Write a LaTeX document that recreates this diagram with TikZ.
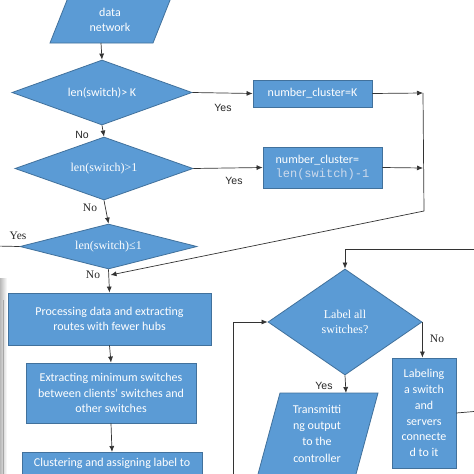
\documentclass[tikz,border=0pt]{standalone}
\usepackage{fontspec}
\setmainfont{Carlito}
\newfontfamily\serifface{Liberation Serif}
\newfontfamily\arialface{Liberation Sans}
\newfontfamily\monoface{Liberation Mono}
\usetikzlibrary{shapes.geometric,arrows.meta}
\definecolor{boxblue}{RGB}{91,155,213}
\definecolor{boxedge}{RGB}{65,113,156}
\definecolor{monotext}{RGB}{205,218,236}
\begin{document}
\begin{tikzpicture}[x=1pt,y=-1pt,
  blk/.style={draw=boxedge, fill=boxblue, line width=0.8pt},
  box/.style={blk, rectangle, text=white, font=\fontsize{12}{15.5}\selectfont, align=center, inner sep=0pt},
  dia/.style={blk, diamond, aspect=3, text=white, inner sep=0pt, align=center, font=\fontsize{12}{15}\selectfont},
  serdia/.style={dia, font=\serifface\fontsize{12}{15}\selectfont},
  conn/.style={draw=black!80, line width=0.7pt},
  arr/.style={conn, -{Latex[length=6pt,width=5pt]}},
  lblsans/.style={font=\arialface\fontsize{10.5}{12}\selectfont, inner sep=0pt, text=black!85},
  lblserif/.style={font=\serifface\fontsize{11.5}{12}\selectfont, inner sep=0pt, text=black!85},
  intext/.style={text=white, inner sep=0pt, align=center, font=\fontsize{12}{15.5}\selectfont}]
\useasboundingbox (0,0) rectangle (474,474);
\clip (0,0) rectangle (474,474);
\fill[white] (0,0) rectangle (474,474);

% page shadow on the left
\shade[left color=gray!55, right color=white] (0,278) rectangle (7,474);
\draw[gray!70, line width=0.6pt] (3.5,300) -- (3.5,474);

% input parallelogram (top)
\filldraw[blk] (50,43) -- (153,43) -- (180,-25) -- (77,-25) -- cycle;
\node[intext, font=\fontsize{12}{15}\selectfont] (src) at (110,19.5) {data\\network};
\coordinate (srcb) at (101,43);

% decisions
\node[dia, minimum width=180, minimum height=65] (d1) at (102,92.5) {len(switch)> K};
\node[serdia, minimum width=178, minimum height=63] (d2) at (104,168.5) {len(switch)>1};
\node[serdia, minimum width=177, minimum height=45] (d3) at (108.5,246.5) {len(switch)≤1};
\node[serdia, minimum width=154, minimum height=106] (d4) at (345,322) {Label all\\switches?};

% boxes
\node[box, minimum width=119, minimum height=27] (kbox) at (312.5,93.5) {number\_cluster=K};
\node[box, minimum width=119, minimum height=41, align=left, font=\fontsize{12}{14}\selectfont] (lbox) at (322.5,167.5)
  {number\_cluster=\\{\monoface\color{monotext}len(switch)-1}};
\node[box, minimum width=203, minimum height=52] (proc) at (109.5,319) {Processing data and extracting\\routes with fewer hubs};
\node[box, minimum width=170, minimum height=60] (extr) at (111,393) {Extracting minimum switches\\between clients’ switches and\\other switches};
\node[box, anchor=north, minimum width=180, inner ysep=5pt, text height=9pt, text depth=40pt] (clus) at (112,452) {Clustering and assigning label to};
\node[box, minimum width=64, minimum height=110, font=\fontsize{12}{15.8}\selectfont] (lab) at (424,413) {Labeling\\a switch\\and\\servers\\connecte\\d to it};

% output parallelogram (bottom)
\filldraw[blk] (280,393) -- (378,393) -- (349,500) -- (251,500) -- cycle;
\node[intext, font=\fontsize{12}{16.3}\selectfont] (out) at (317,433.5) {Transmitti\\ng output\\to the\\controller};
\coordinate (outt) at (346,393);

% junction coordinates
\coordinate (j1) at (423,93);
\coordinate (j2) at (423,168);
\coordinate (j3) at (424,211);
\coordinate (jt) at (110.5,275);
\coordinate (yesl) at (-5,246);
\coordinate (rin) at (480,249);
\coordinate (loopb) at (233,480);
\coordinate (labr) at (480,411);

% connectors
\draw[arr] (srcb) -- (d1.north);
\draw[arr] (d1.east) -- (kbox.west);
\draw[arr] (d1.south) -- (d2.north);
\draw[arr] (d2.east) -- (lbox.west);
\draw[arr] (d2.south) -- (d3.north);
\draw[arr] (d3.south) -- (proc.north);
\draw[conn] (d3.west) -- (yesl);
\draw[arr] (kbox.east) -- (j1);
\draw[arr] (lbox.east) -- (j2);
\draw[conn] (j1) -- (j3);
\draw[arr] (j3) -- (jt);
\draw[arr] (proc.south) -- (extr.north);
\draw[arr] (extr.south) -- (clus.north);
\draw[arr] (rin) -| (d4.north);
\draw[arr] (loopb) |- (d4.west);
\draw[arr] (d4.east) -- (d4.east |- lab.north);
\draw[arr] (d4.south) -- (outt);
\draw[conn] (lab.east) -- (labr);

% branch labels
\node[lblsans] at (223,108) {Yes};
\node[lblsans] at (82,135) {No};
\node[lblsans] at (234,181) {Yes};
\node[lblserif] at (90,208) {No};
\node[lblserif] at (18,236) {Yes};
\node[lblserif] at (93,275) {No};
\node[lblserif] at (437,339) {No};
\node[lblsans] at (324,386) {Yes};
\end{tikzpicture}
\end{document}
